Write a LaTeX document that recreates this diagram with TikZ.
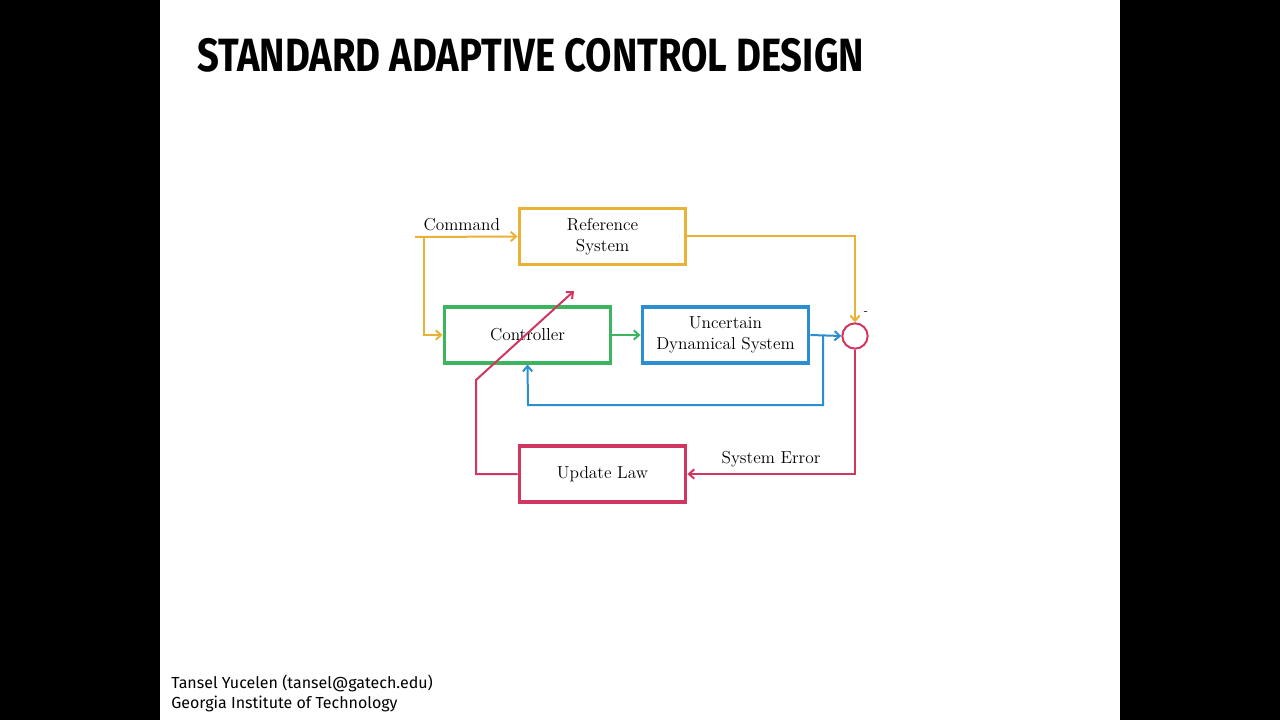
\documentclass[tikz,border=0pt]{standalone}
\usepackage{fontspec}
\newfontfamily\titlefont{Fira Sans}
\newfontfamily\footfont{Fira Sans}
\usetikzlibrary{arrows.meta}
\definecolor{cor}{HTML}{E9B236}
\definecolor{cgr}{HTML}{3DB560}
\definecolor{cbl}{HTML}{2B8ED0}
\definecolor{crd}{HTML}{D0365F}
\begin{document}
\begin{tikzpicture}[x=0.75pt,y=-0.75pt,
 blk/.style={draw=#1,line width=2.4pt,minimum width=125pt,minimum height=42pt,inner sep=0pt,align=center,font=\fontsize{13}{15.5}\selectfont},
 ln/.style={draw=#1,line width=1.5pt,-{Straight Barb[length=4pt,width=7pt]}},
 pl/.style={draw=#1,line width=1.5pt}]
\useasboundingbox (0,0) rectangle (1280,720);
\fill[black] (0,0) rectangle (160,720);
\fill[black] (1120,0) rectangle (1280,720);
\node[anchor=west,inner sep=0pt] (title) at (197,55) {\titlefont\bfseries\fontsize{35}{35}\selectfont\scalebox{0.82}[1]{STANDARD ADAPTIVE CONTROL DESIGN}};
\node[blk=cor] (ref) at (602.5,236.5) {Reference\\System};
\node[blk=cgr] (ctl) at (527.5,335) {Controller};
\node[blk=cbl] (uds) at (725.5,335) {Uncertain\\Dynamical System};
\node[blk=crd] (upd) at (602.5,474) {Update Law};
\node[draw=crd,line width=1.5pt,circle,minimum size=19pt,inner sep=0pt] (sum) at (855,336) {};
\node[font=\fontsize{9}{9}\selectfont,inner sep=0pt] (minus) at (866,313) {-};
\coordinate (cmd) at (415,237);
\coordinate (br) at (424,237);
\node[anchor=south west,inner sep=1pt,font=\fontsize{13}{15}\selectfont] (cmdl) at (422,232) {Command};
\draw[ln=cor] (cmd) -- (ref.west);
\draw[ln=cor] (br) |- (ctl.west);
\draw[ln=cor] (ref.east) -| (sum.north);
\draw[ln=cgr] (ctl.east) -- (uds.west);
\draw[ln=cbl] (uds.east) -- (sum.west);
\coordinate (bb) at (823,336);
\draw[ln=cbl] (bb) |- (528,405) -- (ctl.south);
\draw[ln=crd] (sum.south) |- (upd.east);
\node[anchor=south,inner sep=1pt,font=\fontsize{13}{15}\selectfont] (errl) at (771,469) {System Error};
\coordinate (k1) at (476,474);
\coordinate (k2) at (476,380);
\coordinate (tip) at (574,291);
\draw[ln=crd] (upd.west) -- (k1) -- (k2) -- (tip);
\node[anchor=west,inner sep=0pt,align=left,font=\footfont\fontsize{12}{15}\selectfont] (foot) at (171,693) {Tansel Yucelen (tansel@gatech.edu)\\Georgia Institute of Technology};
\end{tikzpicture}
\end{document}
